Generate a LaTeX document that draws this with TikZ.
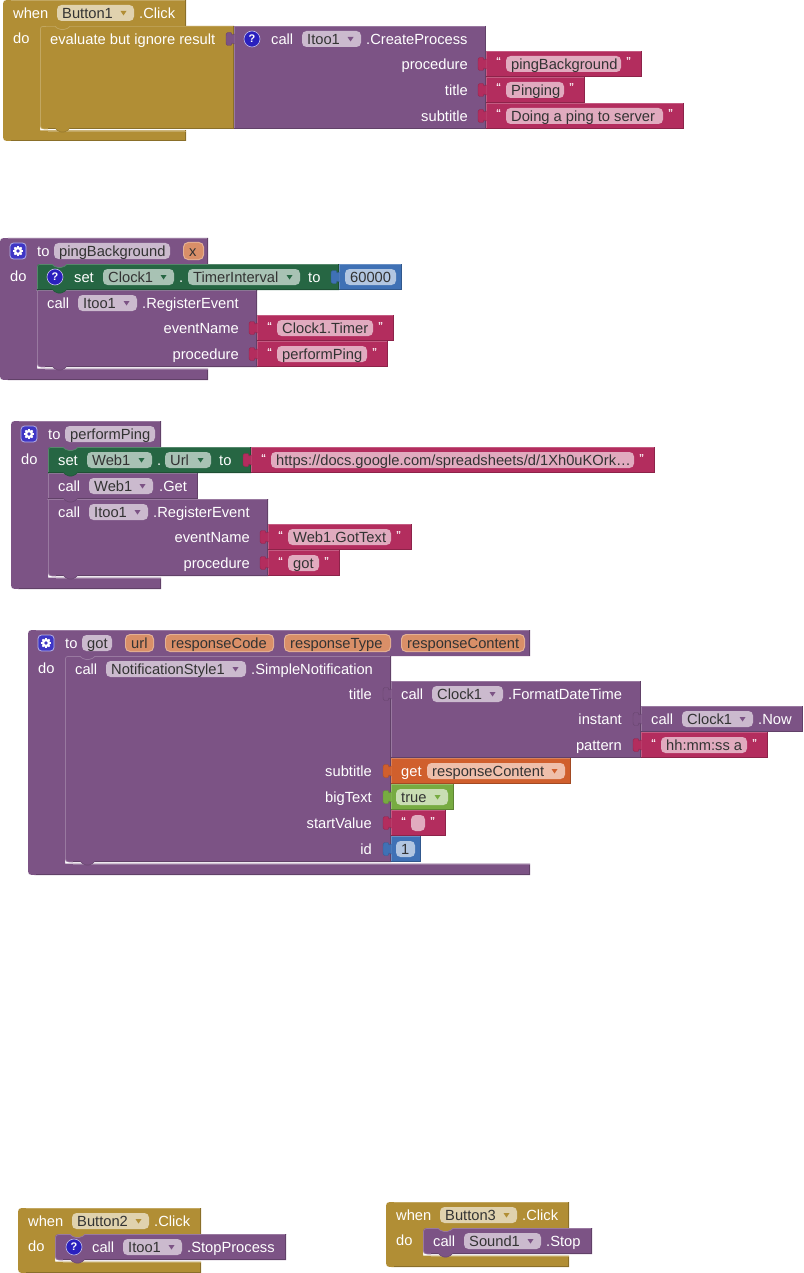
\documentclass[tikz,border=0pt]{standalone}
\usepackage{fontspec}
\setmainfont{Liberation Sans}
\definecolor{gold}{HTML}{B18E35}
\definecolor{purp}{HTML}{7C5385}
\definecolor{pink}{HTML}{B32D5E}
\definecolor{setg}{HTML}{266643}
\definecolor{numb}{HTML}{3F71B5}
\definecolor{vorg}{HTML}{D05F2D}
\definecolor{logi}{HTML}{77AB41}
\definecolor{fgold}{HTML}{E0D2AE}
\definecolor{fpurp}{HTML}{CBBACE}
\definecolor{fpink}{HTML}{E1ABBF}
\definecolor{fsetg}{HTML}{A8C2B4}
\definecolor{fnumb}{HTML}{B2C6E1}
\definecolor{fvorg}{HTML}{EFBFAB}
\definecolor{flogi}{HTML}{C9DDB3}
\definecolor{argo}{HTML}{D98F68}
\definecolor{txt}{HTML}{333333}
\definecolor{helpb}{HTML}{2A20BE}
\newcounter{nn}
\tikzset{lab/.style={font=\fontsize{14.7}{16}\selectfont,inner sep=0pt,anchor=base west},
 edgel/.style={line width=.7pt},
 quo/.style={font=\bfseries\fontsize{10}{10}\selectfont,inner sep=0pt,text=white,anchor=base west}}
% white label
\newcommand\lbl[3]{\stepcounter{nn}\node[lab,text=white] (n\thenn) at (#1,#2+5.6) {#3};}
\newcommand\lbr[3]{\stepcounter{nn}\node[lab,anchor=base east,text=white] (n\thenn) at (#1,#2+5.6) {#3};}
% field: fill x1 x2 yc text
\newcommand\fd[5]{\stepcounter{nn}\fill[#1,rounded corners=4.5] (#2,#4-8) rectangle (#3,#4+8);
 \node[lab,text=txt] (n\thenn) at (#2+5,#4+5.6) {#5};}
% dropdown field: fill x1 x2 yc text arrowcolour
\newcommand\fda[6]{\fd{#1}{#2}{#3}{#4}{#5}\fill[#6] (#3-13.5,#4-2) -- (#3-7.5,#4-2) -- (#3-10.5,#4+2.5) -- cycle;}
% argument
\newcommand\argf[4]{\stepcounter{nn}\fill[argo!70!white,rounded corners=5] (#1-1,#3-9) rectangle (#2+1,#3+9);\fill[argo,rounded corners=4.5] (#1,#3-8) rectangle (#2,#3+8);
 \node[lab,text=txt] (n\thenn) at (#1+5,#3+5.6) {#4};}
% rectangular block: col x1 y1 x2 y2
\newcommand\rb[5]{\fill[#1] (#2,#3) rectangle (#4,#5);
 \draw[#1!78!white,edgel] (#2+.4,#5) -- (#2+.4,#3+.4) -- (#4,#3+.4);
 \draw[#1!78!black,edgel] (#4-.4,#3) -- (#4-.4,#5-.4) -- (#2,#5-.4);}
% statement block with rounded left corners: col x1 y1 x2 y2 rtop rbot
\newcommand\stm[7]{\fill[#1] (#2+#6,#3) -- (#4,#3) -- (#4,#5) -- (#2+#7,#5) .. controls (#2,#5) and (#2,#5) .. (#2,#5-#7) -- (#2,#3+#6) .. controls (#2,#3) and (#2,#3) .. (#2+#6,#3) -- cycle;
 \draw[#1!78!white,edgel] (#2+#7,#5) .. controls (#2+.4,#5) and (#2+.4,#5) .. (#2+.4,#5-#7) -- (#2+.4,#3+#6) .. controls (#2+.4,#3+.4) and (#2+.4,#3+.4) .. (#2+#6,#3+.4) -- (#4,#3+.4);
 \draw[#1!78!black,edgel] (#4-.4,#3) -- (#4-.4,#5-.4) -- (#2+#7,#5-.4);}
% bump under a statement block: col x y(bottom)
\newcommand\bump[3]{\path[fill=#1,draw=#1!85!black,line width=.6pt,rounded corners=2] (#2+15,#3-.5) -- (#2+19,#3+3.5) -- (#2+26,#3+3.5) -- (#2+30,#3-.5);}
% notch on top of a statement block: fillcol linecol x y
\newcommand\notch[4]{\path[fill=#1,rounded corners=2] (#3+15,#4-.5) -- (#3+19,#4+3.5) -- (#3+26,#4+3.5) -- (#3+30,#4-.5);
 \draw[#2!78!white,edgel,rounded corners=2] (#3+15,#4+.4) -- (#3+19,#4+3.5) -- (#3+26,#4+3.5) -- (#3+30,#4+.4);}
% C shaped block: col x1 y0 x2 xin y1 y2 y3
\newcommand\cb[8]{\fill[#1] (#4,#3) -- (#2+8,#3) .. controls (#2,#3) and (#2,#3) .. (#2,#3+8) -- (#2,#8-8) .. controls (#2,#8) and (#2,#8) .. (#2+8,#8) -- (#4,#8) -- (#4,#7) -- (#5,#7) -- (#5,#6) -- (#4,#6) -- cycle;
 \fill[#1] (#5-.5,#6-.5) rectangle (#5+8,#6+8);
 \draw[#1!78!white,edgel] (#4,#3+.4) -- (#2+8,#3+.4);
 \draw[#1!78!black,edgel] (#4-.4,#3) -- (#4-.4,#6);
 \draw[#1!78!black,edgel] (#2+8,#8-.4) -- (#4-.4,#8-.4) -- (#4-.4,#7);
 \draw[#1!78!white,edgel] (#5+8,#7+.4) -- (#4,#7+.4);}
% puzzle tab: col x yc
\newcommand\ptab[3]{\path[fill=#1,draw=#1!82!black,line width=.4pt] (#2+.5,#3-5) -- (#2-2,#3-4) -- (#2-3,#3-6.5) -- (#2-6,#3-6.5) .. controls (#2-8,#3-6.5) and (#2-8,#3-5) .. (#2-8,#3-3) -- (#2-8,#3+3) .. controls (#2-8,#3+5) and (#2-8,#3+6.5) .. (#2-6,#3+6.5) -- (#2-3,#3+6.5) -- (#2-2,#3+4) -- (#2+.5,#3+5);}
% help icon
\newcommand\helpi[2]{\stepcounter{nn}\fill[helpb,draw=white!70!helpb,line width=.6pt] (#1,#2) circle (8);
 \node[inner sep=0pt,font=\bfseries\fontsize{11}{11}\selectfont,text=white] (n\thenn) at (#1,#2) {?};}
% gear icon
\newcommand\gearicon[2]{\fill[helpb!90!white,draw=white!65!helpb,line width=.8pt,rounded corners=3.5] (#1-8,#2-8) rectangle (#1+8,#2+8);
 \foreach \a in {0,45,...,315}{\draw[white,line width=1.8pt] ($(#1,#2)+(\a:3)$) -- ($(#1,#2)+(\a:5)$);}
 \fill[white] (#1,#2) circle (4.2);
 \fill[helpb!90!white] (#1,#2) circle (1.9);}
% string block: x y x2 text
\newcommand\sblk[4]{\rb{pink}{#1}{#2}{#3}{#2+26}\ptab{pink}{#1}{#2+13}
 \stepcounter{nn}\node[quo] (n\thenn) at (#1+10,#2+14) {“};
 \stepcounter{nn}\node[quo] (n\thenn) at (#3-16,#2+14) {”};
 \fd{fpink}{#1+20}{#3-21}{#2+13}{#4}}
\usetikzlibrary{calc}
\begin{document}
\begin{tikzpicture}[x=1pt,y=-1pt]
\useasboundingbox (0,0) rectangle (803,1273);
\fill[white] (0,0) rectangle (803,1273);
% ===== block 1
\cb{gold}{3}{0}{186}{40}{26}{130.5}{141}
\stm{gold}{40}{26}{234}{129}{6}{8}
\notch{gold}{gold}{40}{26}
\bump{gold}{40}{128.5}
\rb{purp}{234}{26}{486}{129}
\ptab{purp}{234}{39}
\lbl{13}{13}{when}\fda{fgold}{57}{134}{13}{Button1}{gold}\lbl{139}{13}{.Click}
\lbl{13}{38}{do}\lbl{50}{39}{evaluate but ignore result}
\helpi{252}{39}\lbl{271}{39}{call}\fda{fpurp}{302}{361}{39}{Itoo1}{purp}\lbl{366}{39}{.CreateProcess}
\lbr{468}{64}{procedure}\lbr{468}{90}{title}\lbr{468}{116}{subtitle}
\sblk{486}{51}{642}{pingBackground}
\sblk{486}{77}{585}{Pinging}
\sblk{486}{103}{684}{Doing a ping to server}
% ===== block 2
\cb{purp}{0}{238}{208}{37}{264}{368.5}{380}
\stm{purp}{37}{290}{257}{367}{0}{8}
\bump{purp}{37}{366.5}
\stm{setg}{37}{264}{339}{290}{6}{0}
\notch{purp}{setg}{37}{264}
\bump{setg}{37}{289.5}
\gearicon{18}{251}\lbl{37}{251}{to}\fd{fpurp}{54}{170}{251}{pingBackground}\argf{184}{203}{251}{x}
\lbl{10}{276}{do}
\helpi{55}{277}\lbl{74}{277}{set}\fda{fsetg}{103}{174}{277}{Clock1}{setg}\lbl{179}{277}{.}\fda{fsetg}{188}{300}{277}{TimerInterval}{setg}\lbl{308}{277}{to}
\rb{numb}{339}{264}{402}{290}\ptab{numb}{339}{277}\fd{fnumb}{345}{396}{277}{60000}
\lbl{47}{303}{call}\fda{fpurp}{78}{137}{303}{Itoo1}{purp}\lbl{142}{303}{.RegisterEvent}
\lbr{239}{328}{eventName}\lbr{239}{354}{procedure}
\sblk{257}{315}{394}{Clock1.Timer}
\sblk{257}{341}{388}{performPing}
% ===== block 3
\cb{purp}{11}{421}{161}{48}{447}{577.5}{589}
\stm{purp}{48}{499}{268}{576}{0}{8}
\bump{purp}{48}{575.5}
\rb{purp}{48}{473}{198}{499}
\bump{purp}{48}{498.5}
\stm{setg}{48}{447}{251}{473}{6}{0}
\notch{purp}{setg}{48}{447}
\bump{setg}{48}{472.5}
\gearicon{29}{434}\lbl{48}{434}{to}\fd{fpurp}{65}{155}{434}{performPing}
\lbl{21}{459}{do}
\lbl{58}{460}{set}\fda{fsetg}{87}{152}{460}{Web1}{setg}\lbl{157}{460}{.}\fda{fsetg}{165}{211}{460}{Url}{setg}\lbl{219}{460}{to}
\sblk{251}{447}{655}{https://docs.google.com/spreadsheets/d/1Xh0uKOrk…}
\lbl{58}{486}{call}\fda{fpurp}{89}{153}{486}{Web1}{purp}\lbl{159}{486}{.Get}
\lbl{58}{512}{call}\fda{fpurp}{89}{148}{512}{Itoo1}{purp}\lbl{153}{512}{.RegisterEvent}
\lbr{250}{537}{eventName}\lbr{250}{563}{procedure}
\sblk{268}{524}{412}{Web1.GotText}
\sblk{268}{550}{340}{got}
% ===== block 4
\cb{purp}{28}{630}{530}{65}{656}{863.5}{875}
\stm{purp}{65}{656}{391}{862}{6}{8}
\notch{purp}{purp}{65}{656}
\bump{purp}{65}{861.5}
\gearicon{46}{643}\lbl{65}{643}{to}\fd{fpurp}{82}{112}{643}{got}
\argf{126}{153}{643}{url}\argf{166}{273}{643}{responseCode}\argf{285}{390}{643}{responseType}\argf{402}{524}{643}{responseContent}
\lbl{38}{668}{do}
\lbl{75}{669}{call}\fda{fpurp}{106}{246}{669}{NotificationStyle1}{purp}\lbl{251}{669}{.SimpleNotification}
\lbr{372}{694}{title}\lbr{372}{771}{subtitle}\lbr{372}{797}{bigText}\lbr{372}{823}{startValue}\lbr{372}{849}{id}
\rb{purp}{391}{681}{641}{758}\ptab{purp}{391}{694}
\lbl{401}{694}{call}\fda{fpurp}{432}{503}{694}{Clock1}{purp}\lbl{508}{694}{.FormatDateTime}
\lbr{622}{719}{instant}\lbr{622}{745}{pattern}
\rb{purp}{641}{706}{803}{732}\ptab{purp}{641}{719}
\lbl{651}{719}{call}\fda{fpurp}{682}{753}{719}{Clock1}{purp}\lbl{758}{719}{.Now}
\sblk{641}{732}{768}{hh:mm:ss a}
\rb{vorg}{391}{758}{571}{784}\ptab{vorg}{391}{771}
\lbl{401}{771}{get}\fda{fvorg}{427}{565}{771}{responseContent}{vorg}
\rb{logi}{391}{784}{454}{810}\ptab{logi}{391}{797}
\fda{flogi}{396}{448}{797}{true}{logi}
\sblk{391}{810}{446}{}
\rb{numb}{391}{836}{421}{862}\ptab{numb}{391}{849}
\fd{fnumb}{396}{415}{849}{1}
% ===== block 5
\cb{gold}{18}{1208}{201}{55}{1234}{1261.5}{1273}
\stm{purp}{55}{1234}{286}{1260}{8}{8}
\notch{gold}{purp}{55}{1234}
\bump{purp}{55}{1259.5}
\lbl{28}{1221}{when}\fda{fgold}{72}{149}{1221}{Button2}{gold}\lbl{154}{1221}{.Click}
\lbl{28}{1246}{do}
\helpi{74}{1247}\lbl{92}{1247}{call}\fda{fpurp}{123}{182}{1247}{Itoo1}{purp}\lbl{187}{1247}{.StopProcess}
% ===== block 6
\cb{gold}{386}{1202}{569}{423}{1228}{1255.5}{1267}
\stm{purp}{423}{1228}{592}{1254}{8}{8}
\notch{gold}{purp}{423}{1228}
\bump{purp}{423}{1253.5}
\lbl{396}{1215}{when}\fda{fgold}{440}{517}{1215}{Button3}{gold}\lbl{522}{1215}{.Click}
\lbl{396}{1240}{do}
\lbl{433}{1241}{call}\fda{fpurp}{464}{541}{1241}{Sound1}{purp}\lbl{546}{1241}{.Stop}
\end{tikzpicture}
\end{document}
